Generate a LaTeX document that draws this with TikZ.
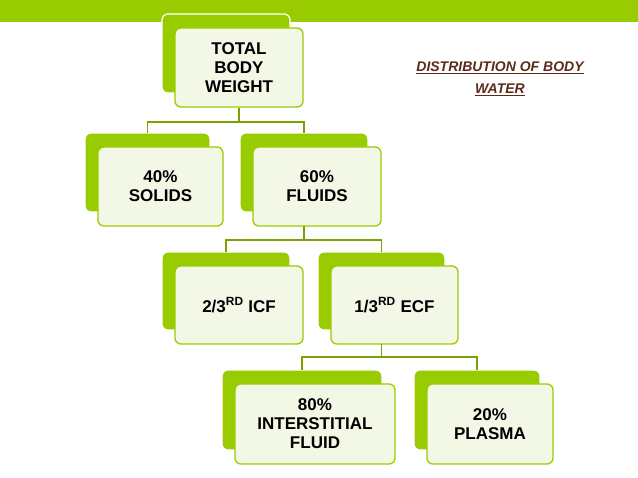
\documentclass[tikz,border=0pt]{standalone}
\usepackage{fontspec}
\setmainfont{Liberation Sans}
\definecolor{grn}{HTML}{99CC00}
\definecolor{pale}{HTML}{F3F8E6}
\definecolor{ttl}{HTML}{5A2A1A}
\begin{document}
\begin{tikzpicture}[x=1pt,y=-1pt,
  backbox/.style={fill=grn,draw=white,line width=1.2pt,rounded corners=6pt},
  frontbox/.style={fill=pale,draw=grn,line width=1.3pt,rounded corners=6pt},
  lbl/.style={font=\bfseries\fontsize{17}{19}\selectfont,align=center,text=black},
  conn/.style={draw=grn!80!black,line width=1.2pt}]
\useasboundingbox (0,0) rectangle (638,478);
\fill[grn] (0,0) rectangle (638,22);
\newcommand\mybox[6]{% name, x1,y1,x2,y2, text
  \draw[backbox] (#2,#3) rectangle (#4,#5);
  \coordinate (#1b) at ({(#2+#4)/2},#5);
  \coordinate (#1t) at ({(#2+#4)/2},#3);
  \draw[frontbox] (#2+13,#3+14) rectangle (#4+13,#5+14);
  \node[lbl] (#1) at ({(#2+#4)/2+13},{(#3+#5)/2+14}) {#6};}
\mybox{tbw}{162}{14}{290}{93}{TOTAL\\BODY\\WEIGHT}
\mybox{sol}{85}{133}{210}{212}{40\%\\SOLIDS}
\mybox{flu}{240}{133}{368}{212}{60\%\\FLUIDS}
\mybox{icf}{162}{252}{290}{330}{2/3\textsuperscript{RD} ICF}
\mybox{ecf}{318}{252}{445}{330}{1/3\textsuperscript{RD} ECF}
\mybox{int}{222}{370}{382}{450}{80\%\\INTERSTITIAL\\FLUID}
\mybox{pla}{414}{370}{540}{450}{20\%\\PLASMA}
\draw[conn] (tbw.center|-0,108) -- ++(0,14) -| (solt);
\draw[conn] (tbw.center|-0,108) ++(0,14) -| (flut);
\draw[conn] (flub) ++(0,14) -- ++(0,14) -| (icft);
\draw[conn] (flub) ++(0,14) ++(0,14) -| (ecft);
\draw[conn] (ecfb) ++(0,14) -- ++(0,13) -| (intt);
\draw[conn] (ecfb) ++(0,14) ++(0,13) -| (plat);
\node[font=\bfseries\itshape\fontsize{14}{22}\selectfont,text=ttl,align=center] (title) at (500,79)
  {\underline{DISTRIBUTION OF BODY}\\\underline{WATER}};
\end{tikzpicture}
\end{document}
